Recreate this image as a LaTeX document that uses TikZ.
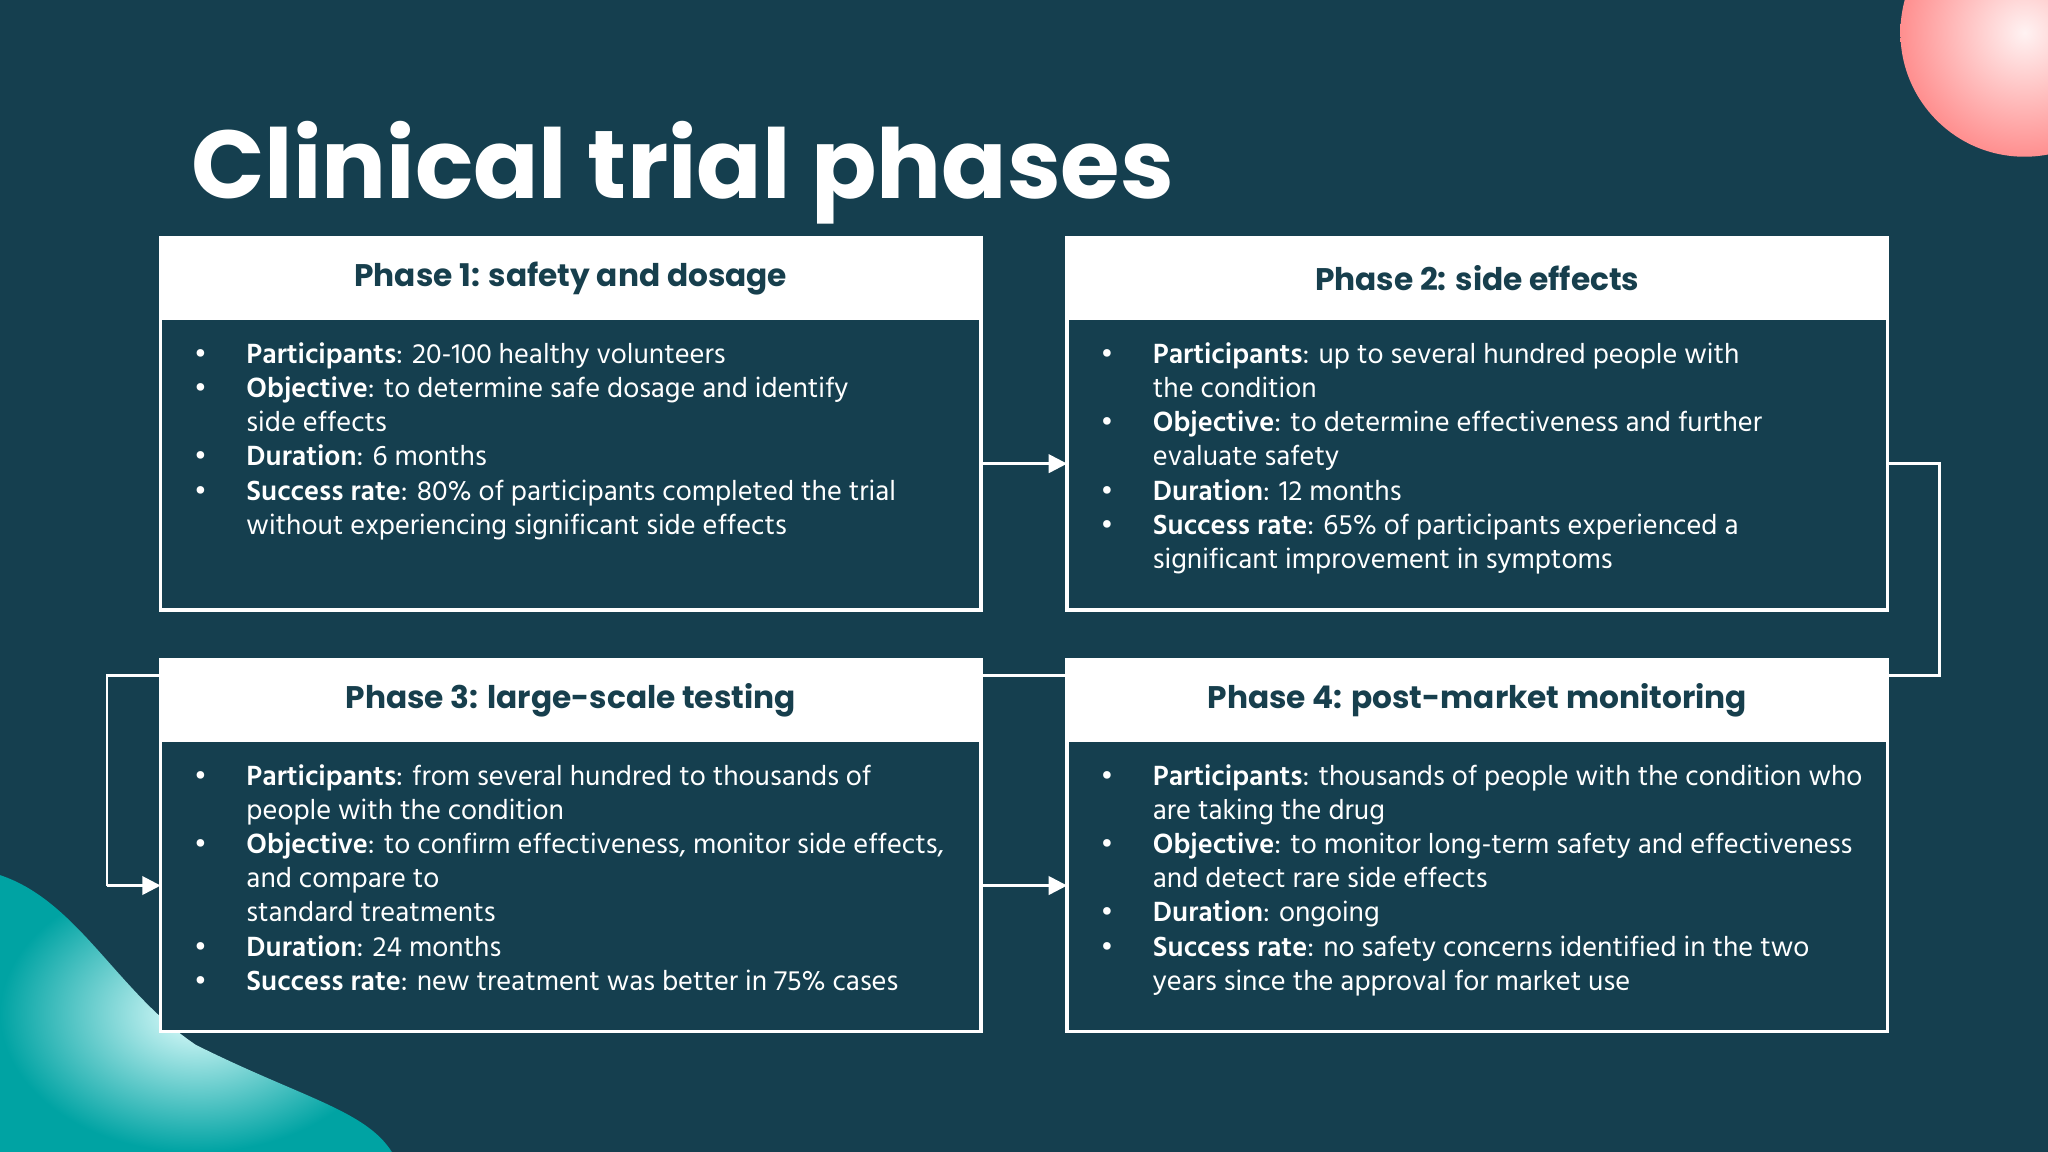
\documentclass[tikz,border=0pt]{standalone}
\usepackage{fontspec}
\setmainfont{Hind Madurai}
\newfontfamily\headfont{Poppins}
\definecolor{bg}{HTML}{153F4F}
\definecolor{hd}{HTML}{173F4D}
\usetikzlibrary{arrows.meta}
\tikzset{
  link/.style={draw=white,line width=0.6pt,-{Triangle[length=4pt,width=4pt]}},
  plain/.style={draw=white,line width=0.6pt},
  boxbody/.style={draw=white,line width=0.7pt,fill=bg},
  boxhead/.style={draw=white,line width=0.7pt,fill=white},
  htext/.style={font=\headfont\fontsize{6.8}{8}\selectfont\bfseries,text=hd},
  btext/.style={font=\fontsize{6.2}{7.45}\selectfont,text=white,align=left,anchor=north west,inner sep=0pt}
}
\newcommand{\itm}[2]{\makebox[0.40cm][l]{\textbullet}&\textbf{#1}: #2\\}
\newcommand{\cnt}[1]{&#1\\}
\begin{document}
\begin{tikzpicture}[x=0.01cm,y=-0.01cm]
\fill[bg] (0,0) rectangle (1568,882);
\useasboundingbox (0,0) rectangle (1568,882);
\begin{scope}
\clip (0,0) rectangle (1568,882);
\shade[inner color=white!80!pink,outer color=red!40!pink!80!white] (1550,25) circle (95);
\shade[inner color=cyan!10!white,outer color=cyan!60!teal!80!black]
 (0,670) .. controls (60,690) and (90,760) .. (150,800) .. controls (230,840) and (280,850) .. (300,882) -- (0,882) -- cycle;
\end{scope}
\node[anchor=west,text=white,font=\headfont\fontsize{21}{25}\selectfont\bfseries] (title) at (134,132) {Clinical trial phases};
% connectors behind
\coordinate (r1) at (1485,355); \coordinate (r2) at (1485,517);
\coordinate (l1) at (82,517); \coordinate (l2) at (82,678);
\draw[plain] (1445,355) -- (r1) -- (r2) -- (l1) -- (l2);
% boxes
\draw[boxbody] (123,182) rectangle (751,467); \draw[boxhead] (123,182) rectangle (751,244);
\draw[boxbody] (817,182) rectangle (1445,467); \draw[boxhead] (817,182) rectangle (1445,244);
\draw[boxbody] (123,505) rectangle (751,790); \draw[boxhead] (123,505) rectangle (751,567);
\draw[boxbody] (817,505) rectangle (1445,790); \draw[boxhead] (817,505) rectangle (1445,567);
\node[htext] (h1) at (437,213) {Phase 1: safety and dosage};
\node[htext] (h2) at (1131,213) {Phase 2: side effects};
\node[htext] (h3) at (437,536) {Phase 3: large-scale testing};
\node[htext] (h4) at (1131,536) {Phase 4: post-market monitoring};
\node[btext] (b1) at (148,259) {\begin{tabular}{@{}l@{}l@{}}
\itm{Participants}{20-100 healthy volunteers}
\itm{Objective}{to determine safe dosage and identify}
\cnt{side effects}
\itm{Duration}{6 months}
\itm{Success rate}{80\% of participants completed the trial}
\cnt{without experiencing significant side effects}
\end{tabular}};
\node[btext] (b2) at (842,259) {\begin{tabular}{@{}l@{}l@{}}
\itm{Participants}{up to several hundred people with}
\cnt{the condition}
\itm{Objective}{to determine effectiveness and further}
\cnt{evaluate safety}
\itm{Duration}{12 months}
\itm{Success rate}{65\% of participants experienced a}
\cnt{significant improvement in symptoms}
\end{tabular}};
\node[btext] (b3) at (148,582) {\begin{tabular}{@{}l@{}l@{}}
\itm{Participants}{from several hundred to thousands of}
\cnt{people with the condition}
\itm{Objective}{to confirm effectiveness, monitor side effects,}
\cnt{and compare to}
\cnt{standard treatments}
\itm{Duration}{24 months}
\itm{Success rate}{new treatment was better in 75\% cases}
\end{tabular}};
\node[btext] (b4) at (842,582) {\begin{tabular}{@{}l@{}l@{}}
\itm{Participants}{thousands of people with the condition who}
\cnt{are taking the drug}
\itm{Objective}{to monitor long-term safety and effectiveness}
\cnt{and detect rare side effects}
\itm{Duration}{ongoing}
\itm{Success rate}{no safety concerns identified in the two}
\cnt{years since the approval for market use}
\end{tabular}};
\coordinate (p1) at (751,355); \coordinate (p2) at (817,355);
\coordinate (p3) at (123,678); \coordinate (p3o) at (751,678); \coordinate (p4) at (817,678);
\draw[link] (p1) -- (p2);
\draw[link] (l2) -- (p3);
\draw[link] (p3o) -- (p4);
\end{tikzpicture}
\end{document}
